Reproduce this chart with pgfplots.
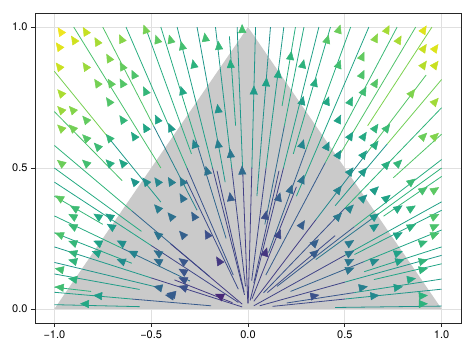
\documentclass[border=0pt]{standalone}
\usepackage{fontspec}
\setmainfont{TeX Gyre Heros}
\usepackage{pgfplots}
\pgfplotsset{compat=1.18}
\usepackage{pgfplotstable}
\usetikzlibrary{arrows.meta}
\definecolor{trigray}{RGB}{202,202,202}
\pgfplotstableread{
x0 y0 x1 y1
0.45 0.005 1.0 0.01
0.127 0.009 0.5 0.035
0.5 0.035 1.0 0.07
0.2 0.021 0.55 0.058
0.55 0.058 1.0 0.106
0.65 0.104 1.0 0.16
0.06 0.011 0.5 0.095
0.5 0.095 1.0 0.19
0.6 0.132 1.0 0.22
0.22 0.062 0.6 0.168
0.6 0.168 1.0 0.28
0.55 0.193 1.0 0.35
0.03 0.011 0.5 0.19
0.5 0.19 1.0 0.38
0.7 0.329 1.0 0.47
0.35 0.175 0.65 0.325
0.65 0.325 1.0 0.5
0.15 0.08 0.55 0.292
0.55 0.292 1.0 0.53
0.75 0.465 1.0 0.62
0.08 0.057 0.5 0.357
0.5 0.357 1.0 0.714
0.45 0.366 0.72 0.586
0.72 0.586 1.0 0.814
0.03 0.027 0.35 0.316
0.35 0.316 0.62 0.559
0.62 0.559 0.92 0.83
0.618 0.65 0.95 1.0
0.476 0.55 0.866 1.0
0.092 0.12 0.40 0.52
0.40 0.52 0.77 1.0
0.25 0.4 0.624 1.0
0.106 0.2 0.3 0.566
0.3 0.566 0.53 1.0
0.234 0.55 0.426 1.0
0.011 0.03 0.183 0.5
0.183 0.5 0.366 1.0
0.087 0.3 0.188 0.65
0.188 0.65 0.289 1.0
0.176 0.72 0.245 1.0
0.019 0.1 0.093 0.5
0.093 0.5 0.185 1.0
0.046 0.4 0.116 1.0
0.001 0.02 0.02 0.5
0.02 0.5 0.039 1.0
0.02 0.035 0.25 0.433
0.03 0.092 0.16 0.49
0.1 0.058 0.45 0.26
-0.001 0.02 -0.028 0.5
-0.028 0.5 -0.056 1.0
-0.064 0.65 -0.096 0.967
-0.013 0.08 -0.084 0.5
-0.084 0.5 -0.168 1.0
-0.118 0.45 -0.263 1.0
-0.018 0.05 -0.183 0.5
-0.183 0.5 -0.366 1.0
-0.113 0.25 -0.27 0.6
-0.27 0.6 -0.45 1.0
-0.292 0.55 -0.53 1.0
-0.076 0.12 -0.315 0.5
-0.315 0.5 -0.63 1.0
-0.263 0.35 -0.488 0.65
-0.488 0.65 -0.75 1.0
-0.45 0.5 -0.9 1.0
-0.45 0.379 -0.72 0.607
-0.72 0.607 -1.0 0.843
-0.65 0.455 -1.0 0.70
-0.2 0.116 -0.6 0.348
-0.6 0.348 -1.0 0.58
-0.55 0.275 -1.0 0.5
-0.05 0.023 -0.5 0.225
-0.5 0.225 -1.0 0.45
-0.75 0.3 -1.0 0.4
-0.3 0.099 -0.65 0.215
-0.65 0.215 -1.0 0.33
-0.6 0.162 -1.0 0.27
-0.08 0.022 -0.38 0.103
-0.03 0.007 -0.5 0.11
-0.5 0.11 -1.0 0.22
-0.45 0.074 -1.0 0.165
-0.56 0.069 -1.0 0.124
-0.81 0.062 -1.0 0.077
-0.19 0.011 -0.6 0.035
-0.6 0.035 -1.0 0.059
-0.56 0.008 -1.0 0.015
-0.03 0.017 -0.4 0.231
-0.05 0.07 -0.32 0.457
-0.02 0.06 -0.16 0.49
}\streamlines
\pgfplotstableread{
x y
-0.969 0.985
-0.900 0.955
-0.840 0.985
-0.780 0.949
-0.654 0.958
-0.530 0.991
-0.469 0.955
-0.400 0.955
-0.978 0.932
-0.978 0.861
-0.840 0.861
-0.719 0.890
-0.650 0.861
-0.590 0.832
-0.969 0.767
-0.780 0.802
-0.711 0.802
-0.650 0.802
-0.530 0.773
-0.969 0.708
-0.909 0.708
-0.840 0.673
-0.719 0.737
-0.650 0.673
-0.469 0.673
-0.530 0.643
-0.590 0.614
-0.400 0.643
-0.969 0.643
-0.909 0.643
-0.840 0.608
-0.780 0.578
-0.719 0.608
-0.969 0.519
-0.840 0.519
-0.719 0.519
-0.650 0.519
-0.030 0.991
-0.220 0.961
-0.151 0.932
-0.340 0.932
-0.280 0.867
-0.090 0.867
-0.340 0.773
-0.154 0.708
0.030 0.773
0.094 0.802
0.156 0.832
0.220 0.896
0.283 0.867
0.345 0.802
0.280 0.737
-0.276 0.584
-0.154 0.584
-0.090 0.549
0.280 0.584
0.469 0.991
0.409 0.955
0.719 0.991
0.780 0.955
0.909 0.991
0.969 0.926
0.909 0.926
0.659 0.961
0.590 0.896
0.909 0.867
0.969 0.867
0.469 0.867
0.590 0.832
0.659 0.802
0.848 0.767
0.530 0.737
0.599 0.773
0.969 0.737
0.469 0.673
0.409 0.737
0.659 0.643
0.719 0.643
0.530 0.614
0.599 0.614
0.659 0.584
0.909 0.614
0.969 0.614
0.469 0.549
0.599 0.549
0.719 0.514
0.780 0.519
0.409 0.578
-0.978 0.395
-0.900 0.359
-0.909 0.330
-0.780 0.330
-0.719 0.330
-0.711 0.294
-0.909 0.294
-0.978 0.265
-0.909 0.236
-0.780 0.236
-0.659 0.236
-0.909 0.200
-0.788 0.200
-0.599 0.200
-0.659 0.171
-0.909 0.171
-0.978 0.141
-0.909 0.106
-0.978 0.077
-0.780 0.047
-0.848 0.018
-0.590 0.453
-0.530 0.453
-0.400 0.453
-0.469 0.359
-0.400 0.330
-0.469 0.265
-0.469 0.200
-0.469 0.171
-0.400 0.053
-0.340 0.395
-0.280 0.330
-0.211 0.265
-0.151 0.171
-0.151 0.047
-0.340 0.171
-0.340 0.135
-0.340 0.106
-0.340 0.077
-0.409 0.047
-0.469 0.077
-0.340 0.265
-0.340 0.453
-0.090 0.395
-0.469 0.453
-0.211 0.489
-0.030 0.489
0.280 0.459
0.220 0.424
0.159 0.395
0.090 0.330
0.159 0.265
0.090 0.200
0.280 0.300
0.349 0.236
0.349 0.200
0.349 0.047
0.530 0.489
0.599 0.489
0.469 0.424
0.599 0.395
0.530 0.359
0.469 0.330
0.659 0.424
0.719 0.395
0.848 0.453
0.909 0.424
0.969 0.424
0.780 0.359
0.848 0.359
0.659 0.330
0.659 0.294
0.969 0.330
0.969 0.294
0.848 0.294
0.780 0.265
0.969 0.265
0.530 0.236
0.530 0.200
0.530 0.171
0.530 0.141
0.659 0.171
0.780 0.200
0.909 0.236
0.788 0.171
0.909 0.171
0.909 0.141
0.848 0.106
0.599 0.077
0.780 0.077
0.659 0.047
0.909 0.047
0.909 0.018
}\arrowpts
\begin{document}
\begin{tikzpicture}
\useasboundingbox (-35pt,-32pt) rectangle (439pt,323pt);
\begin{axis}[
  scale only axis, width=426pt, height=310pt,
  xmin=-1.1, xmax=1.1, ymin=-0.05, ymax=1.05,
  xtick={-1,-0.5,0,0.5,1}, xticklabels={−1.0,−0.5,0.0,0.5,1.0},
  ytick={0,0.5,1}, yticklabels={0.0,0.5,1.0},
  grid=major, grid style={black!12, line width=0.8pt},
  axis line style={black!85, line width=0.8pt},
  tick align=outside, xtick pos=bottom, ytick pos=left,
  major tick length=4pt, tick style={black!85, line width=0.8pt},
  tick label style={font=\fontsize{11}{13}\selectfont},
  colormap/viridis, point meta min=0, point meta max=1.414,
]
\addplot[fill=trigray, draw=none, forget plot] coordinates {(-1,0) (1,0) (0,1) (-1,0)};
\addplot[quiver={u={\thisrow{x1}-\thisrow{x0}}, v={\thisrow{y1}-\thisrow{y0}}, colored},
  line width=0.8pt,
  point meta={sqrt(((\thisrow{x0}+\thisrow{x1})/2)^2+((\thisrow{y0}+\thisrow{y1})/2)^2)}]
  table[x=x0,y=y0] {\streamlines};
\addplot[quiver={u={0.02*\thisrow{x}/sqrt(\thisrow{x}^2+\thisrow{y}^2)}, v={0.02*\thisrow{y}/sqrt(\thisrow{x}^2+\thisrow{y}^2)}, colored},
  -{Triangle[length=9pt,width=8pt]}, line width=0.5pt,
  point meta={sqrt(\thisrow{x}^2+\thisrow{y}^2)}]
  table[x=x,y=y] {\arrowpts};
\end{axis}
\end{tikzpicture}
\end{document}
